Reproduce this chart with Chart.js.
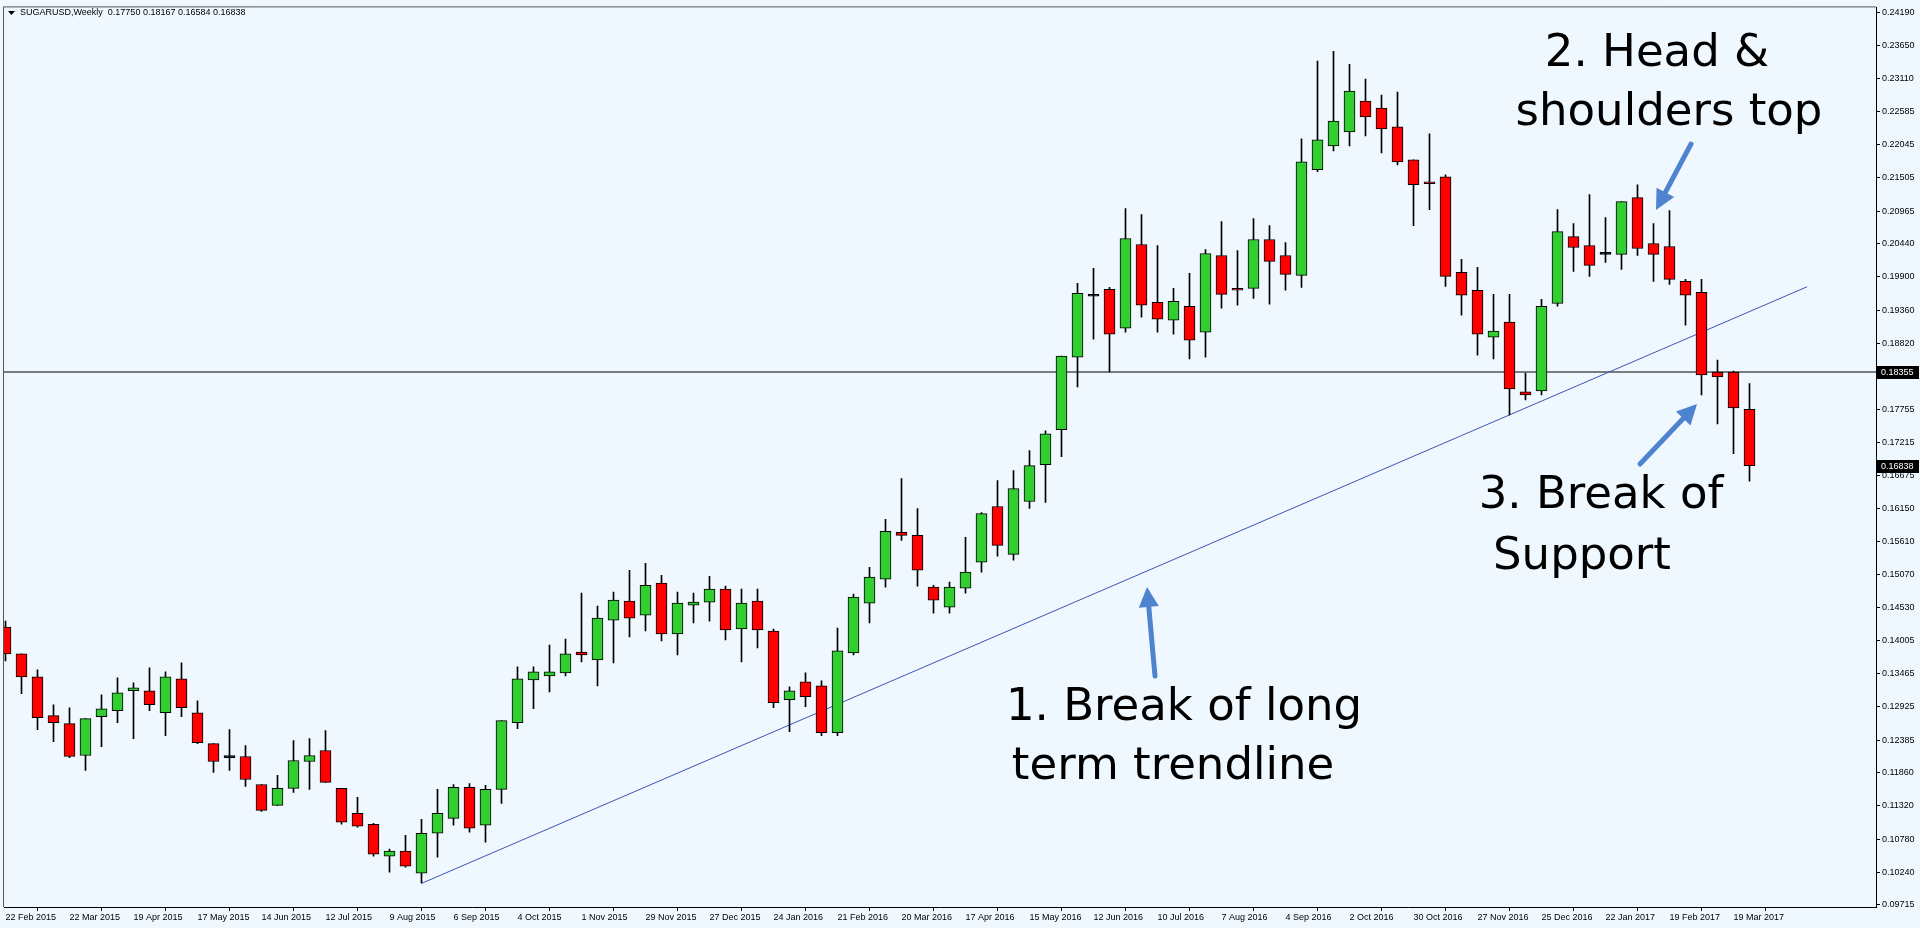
<!DOCTYPE html>
<html>
<head>
<meta charset="utf-8">
<title>SUGARUSD Weekly</title>
<script src="https://cdn.jsdelivr.net/npm/chart.js@4.4.1/dist/chart.umd.min.js"></script>
<style>
  html, body { margin: 0; padding: 0; background: #F0F8FF; overflow: hidden; }
  canvas { display: block; }
</style>
</head>
<body>
<canvas id="chart" width="1920" height="928"></canvas>
<script>
// weekly candles, 22 Feb 2015 .. 26 Mar 2017
const opens = [
  0.14221, 0.13785, 0.13414, 0.12784, 0.12655, 0.12138, 0.12768, 0.12865, 0.13188, 0.13188,
  0.12832, 0.13381, 0.12832, 0.12332, 0.12105, 0.12122, 0.11669, 0.11330, 0.11605, 0.12041,
  0.12219, 0.11605, 0.11201, 0.11024, 0.10507, 0.10588, 0.10232, 0.10878, 0.11120, 0.11621,
  0.11008, 0.11589, 0.12671, 0.13365, 0.13430, 0.13478, 0.13817, 0.13688, 0.14334, 0.14641,
  0.14415, 0.14932, 0.14108, 0.14576, 0.14625, 0.14835, 0.14189, 0.14641, 0.14157, 0.13042,
  0.13333, 0.13268, 0.12509, 0.13801, 0.14609, 0.14996, 0.15755, 0.15706, 0.14867, 0.14544,
  0.14851, 0.15271, 0.16175, 0.15400, 0.16256, 0.16853, 0.17419, 0.18597, 0.19583, 0.19696,
  0.19066, 0.20422, 0.19486, 0.19195, 0.19421, 0.19001, 0.20244, 0.19712, 0.19712, 0.20503,
  0.20244, 0.19922, 0.21634, 0.22021, 0.22247, 0.22748, 0.22635, 0.22328, 0.21795, 0.21440,
  0.21520, 0.19970, 0.19680, 0.18921, 0.19163, 0.18032, 0.18049, 0.19469, 0.20551, 0.20406,
  0.20261, 0.20261, 0.21181, 0.20438, 0.20390, 0.19825, 0.19648, 0.18355, 0.18355, 0.17750
];
const highs = [
  0.14318, 0.13785, 0.13527, 0.12961, 0.12913, 0.12735, 0.13123, 0.13397, 0.13317, 0.13559,
  0.13494, 0.13640, 0.13026, 0.12332, 0.12558, 0.12300, 0.11669, 0.11815, 0.12380, 0.12412,
  0.12541, 0.11605, 0.11460, 0.11040, 0.10620, 0.10846, 0.11104, 0.11589, 0.11669, 0.11685,
  0.11653, 0.12703, 0.13575, 0.13575, 0.13930, 0.14027, 0.14770, 0.14560, 0.14786, 0.15142,
  0.15255, 0.15061, 0.14786, 0.14770, 0.15045, 0.14883, 0.14835, 0.14835, 0.14189, 0.13252,
  0.13478, 0.13349, 0.14205, 0.14754, 0.15190, 0.15965, 0.16627, 0.16143, 0.14899, 0.14948,
  0.15674, 0.16078, 0.16595, 0.16756, 0.17080, 0.17403, 0.18613, 0.19792, 0.20035, 0.19728,
  0.21004, 0.20907, 0.20406, 0.19712, 0.19954, 0.20341, 0.20794, 0.20325, 0.20842, 0.20729,
  0.20455, 0.22134, 0.23394, 0.23555, 0.23345, 0.23103, 0.22845, 0.22893, 0.21795, 0.22215,
  0.21553, 0.20180, 0.20051, 0.19615, 0.19615, 0.18339, 0.19534, 0.20988, 0.20761, 0.21230,
  0.20858, 0.21117, 0.21391, 0.20761, 0.20971, 0.19857, 0.19857, 0.18549, 0.18371, 0.18167
];
const lows = [
  0.13672, 0.13139, 0.12558, 0.12364, 0.12105, 0.11895, 0.12283, 0.12671, 0.12412, 0.12865,
  0.12461, 0.12768, 0.12332, 0.11863, 0.11895, 0.11637, 0.11233, 0.11330, 0.11540, 0.11589,
  0.11702, 0.11024, 0.10975, 0.10507, 0.10248, 0.10329, 0.10071, 0.10491, 0.11008, 0.10894,
  0.10733, 0.11363, 0.12574, 0.12897, 0.13171, 0.13430, 0.13656, 0.13268, 0.13640, 0.14060,
  0.14157, 0.13995, 0.13769, 0.14286, 0.14318, 0.14011, 0.13656, 0.13882, 0.12913, 0.12525,
  0.12929, 0.12461, 0.12461, 0.13769, 0.14286, 0.14867, 0.15626, 0.14883, 0.14447, 0.14447,
  0.14770, 0.15110, 0.15368, 0.15303, 0.16143, 0.16240, 0.16982, 0.18113, 0.18888, 0.18355,
  0.19001, 0.19243, 0.19001, 0.18969, 0.18566, 0.18597, 0.19389, 0.19437, 0.19550, 0.19453,
  0.19680, 0.19728, 0.21601, 0.21941, 0.22021, 0.22183, 0.21908, 0.21714, 0.20729, 0.20988,
  0.19744, 0.19276, 0.18630, 0.18566, 0.17661, 0.17903, 0.17984, 0.19421, 0.19986, 0.19906,
  0.20132, 0.20018, 0.20244, 0.19825, 0.19776, 0.19114, 0.17984, 0.17515, 0.17031, 0.16584
];
const closes = [
  0.13785, 0.13414, 0.12751, 0.12671, 0.12122, 0.12735, 0.12897, 0.13155, 0.13236, 0.12961,
  0.13414, 0.12913, 0.12348, 0.12041, 0.12105, 0.11750, 0.11249, 0.11605, 0.12057, 0.12138,
  0.11702, 0.11056, 0.10991, 0.10539, 0.10588, 0.10345, 0.10878, 0.11201, 0.11621, 0.10959,
  0.11589, 0.12703, 0.13381, 0.13494, 0.13494, 0.13785, 0.13769, 0.14366, 0.14657, 0.14366,
  0.14899, 0.14108, 0.14609, 0.14625, 0.14835, 0.14173, 0.14609, 0.14173, 0.12994, 0.13188,
  0.13091, 0.12509, 0.13834, 0.14706, 0.15029, 0.15771, 0.15706, 0.15142, 0.14657, 0.14867,
  0.15110, 0.16062, 0.15545, 0.16466, 0.16837, 0.17354, 0.18613, 0.19631, 0.19583, 0.18969,
  0.20519, 0.19437, 0.19211, 0.19502, 0.18872, 0.20277, 0.19615, 0.19680, 0.20503, 0.20148,
  0.19938, 0.21763, 0.22118, 0.22425, 0.22909, 0.22489, 0.22296, 0.21763, 0.21391, 0.21407,
  0.19906, 0.19599, 0.18969, 0.19017, 0.18081, 0.17984, 0.19421, 0.20632, 0.20374, 0.20083,
  0.20261, 0.21117, 0.20357, 0.20261, 0.19857, 0.19599, 0.18307, 0.18275, 0.17774, 0.16838
];

// time axis: one label every 4 bars
const dateTickBars = [0, 4, 8, 12, 16, 20, 24, 28, 32, 36, 40, 44, 48, 52, 56, 60, 64, 68, 72, 76, 80, 84, 88, 92, 96, 100, 104, 108];
const dateLabels = [
  "22 Feb 2015", "22 Mar 2015", "19 Apr 2015", "17 May 2015", "14 Jun 2015", "12 Jul 2015",
  "9 Aug 2015", "6 Sep 2015", "4 Oct 2015", "1 Nov 2015", "29 Nov 2015", "27 Dec 2015",
  "24 Jan 2016", "21 Feb 2016", "20 Mar 2016", "17 Apr 2016", "15 May 2016", "12 Jun 2016",
  "10 Jul 2016", "7 Aug 2016", "4 Sep 2016", "2 Oct 2016", "30 Oct 2016", "27 Nov 2016",
  "25 Dec 2016", "22 Jan 2017", "19 Feb 2017", "19 Mar 2017"
];

// price axis labels
const priceTicks = [
  "0.24190", "0.23650", "0.23110", "0.22585", "0.22045", "0.21505", "0.20965", "0.20440",
  "0.19900", "0.19360", "0.18820", "0.18295", "0.17755", "0.17215", "0.16675", "0.16150",
  "0.15610", "0.15070", "0.14530", "0.14005", "0.13465", "0.12925", "0.12385", "0.11860",
  "0.11320", "0.10780", "0.10240", "0.09715"
];

// drawn objects
const supportLevel = 0.18355;
const trendBars = [26, 112.6];
const trendPrices = [0.10065, 0.19737];

const symbolInfo = "SUGARUSD,Weekly";

// view window
const xMin = -0.09375, xMax = 116.90625;
const yMin = 0.096825, yMax = 0.242659;

const BG = "#F0F8FF";
const UP = "#32CD32";
const DOWN = "#FF0000";
const ARROW = "#4E84CF";

const bodyData = opens.map((o, i) => ({ x: i, y: [o, closes[i]] }));
const wickData = lows.map((l, i) => ({ x: i, y: [l, highs[i]] }));
const bodyColors = opens.map((o, i) =>
  closes[i] > o ? UP : closes[i] < o ? DOWN : "#000000");

function drawArrow(ctx, x1, y1, x2, y2) {
  const ang = Math.atan2(y2 - y1, x2 - x1);
  const headLen = 20, headW = 10;
  const bx = x2 - Math.cos(ang) * headLen;
  const by = y2 - Math.sin(ang) * headLen;
  ctx.strokeStyle = ARROW;
  ctx.fillStyle = ARROW;
  ctx.lineWidth = 5;
  ctx.lineCap = "round";
  ctx.beginPath();
  ctx.moveTo(x1, y1);
  ctx.lineTo(bx, by);
  ctx.stroke();
  ctx.beginPath();
  ctx.moveTo(x2, y2);
  ctx.lineTo(bx + Math.sin(ang) * headW, by - Math.cos(ang) * headW);
  ctx.lineTo(bx - Math.sin(ang) * headW, by + Math.cos(ang) * headW);
  ctx.closePath();
  ctx.fill();
}

const overlay = {
  id: "overlay",
  beforeDraw(chart) {
    const ctx = chart.ctx;
    ctx.save();
    ctx.fillStyle = BG;
    ctx.fillRect(0, 0, chart.width, chart.height);
    ctx.restore();
  },
  afterDraw(chart) {
    const { ctx, chartArea: a, scales: { y } } = chart;
    ctx.save();

    // frame
    ctx.strokeStyle = "#555";
    ctx.lineWidth = 1;
    ctx.beginPath();
    ctx.moveTo(a.left - 0.5, a.bottom);
    ctx.lineTo(a.left - 0.5, a.top - 0.5);
    ctx.lineTo(a.right, a.top - 0.5);
    ctx.stroke();

    // header
    ctx.fillStyle = "#000";
    ctx.font = "9px 'Liberation Sans'";
    ctx.textBaseline = "middle";
    ctx.beginPath();
    ctx.moveTo(8, 11); ctx.lineTo(15, 11); ctx.lineTo(11.5, 15); ctx.closePath();
    ctx.fill();
    const last = opens.length - 1;
    ctx.fillText(symbolInfo + "  " + [opens[last], highs[last], lows[last], closes[last]]
      .map(v => v.toFixed(5)).join(" "), 20, 13);

    // price boxes on the axis
    [supportLevel, closes[last]].forEach(v => {
      const py = Math.round(y.getPixelForValue(v));
      ctx.fillStyle = "#000";
      ctx.fillRect(a.right + 1, py - 6, 42, 13);
      ctx.fillStyle = "#fff";
      ctx.textAlign = "left";
      ctx.fillText(v.toFixed(5), a.right + 5, py + 0.5);
    });

    // arrows
    drawArrow(ctx, 1155, 676, 1147, 587);
    drawArrow(ctx, 1691, 144, 1656, 210);
    drawArrow(ctx, 1640, 464, 1697, 404);

    // notes
    ctx.fillStyle = "#000";
    ctx.textAlign = "center";
    ctx.font = "45px 'DejaVu Sans'";
    ctx.fillText("2. Head &", 1657, 54);
    ctx.fillText("shoulders top", 1669, 113);
    ctx.fillText("3. Break of", 1601, 496);
    ctx.fillText("Support", 1582, 557);
    ctx.fillText("1. Break of long", 1184, 708);
    ctx.fillText("term trendline", 1173, 767);
    ctx.restore();
  }
};

const axisFont = { family: "'Liberation Sans'", size: 9 };

new Chart(document.getElementById("chart"), {
  type: "bar",
  data: {
    datasets: [
      {
        type: "line",
        data: [{ x: xMin, y: supportLevel }, { x: xMax, y: supportLevel }],
        borderColor: "#000000",
        borderWidth: 1,
        pointRadius: 0,
        order: 4
      },
      {
        type: "line",
        data: trendBars.map((b, i) => ({ x: b, y: trendPrices[i] })),
        borderColor: "#3D55B8",
        borderWidth: 1,
        pointRadius: 0,
        order: 3
      },
      {
        data: wickData,
        backgroundColor: "#000000",
        barThickness: 1,
        grouped: false,
        order: 2
      },
      {
        data: bodyData,
        backgroundColor: bodyColors,
        borderColor: "#000000",
        borderWidth: 1,
        borderSkipped: false,
        barThickness: 11,
        minBarLength: 2,
        grouped: false,
        order: 1
      }
    ]
  },
  options: {
    responsive: false,
    animation: false,
    events: [],
    layout: { padding: { left: 4, top: 4, right: 0, bottom: 0 } },
    plugins: { legend: { display: false }, tooltip: { enabled: false }, title: { display: false } },
    scales: {
      x: {
        type: "linear",
        min: xMin,
        max: xMax,
        offset: false,
        grid: { drawOnChartArea: false, tickLength: 4, color: "#000" },
        border: { color: "#000" },
        afterBuildTicks: s => { s.ticks = dateTickBars.map(v => ({ value: v })); },
        afterFit: s => { s.height = 21; },
        ticks: {
          autoSkip: false,
          maxRotation: 0,
          minRotation: 0,
          align: "start",
          padding: 1,
          color: "#000",
          font: axisFont,
          callback: v => dateLabels[dateTickBars.indexOf(v)]
        }
      },
      y: {
        position: "right",
        min: yMin,
        max: yMax,
        grid: { drawOnChartArea: false, tickLength: 4, color: "#000" },
        border: { color: "#000" },
        afterBuildTicks: s => { s.ticks = priceTicks.map(t => ({ value: parseFloat(t) })); },
        afterFit: s => { s.width = 44; },
        ticks: {
          autoSkip: false,
          padding: 2,
          color: "#000",
          font: axisFont,
          callback: v => v.toFixed(5)
        }
      }
    }
  },
  plugins: [overlay]
});
</script>
</body>
</html>
